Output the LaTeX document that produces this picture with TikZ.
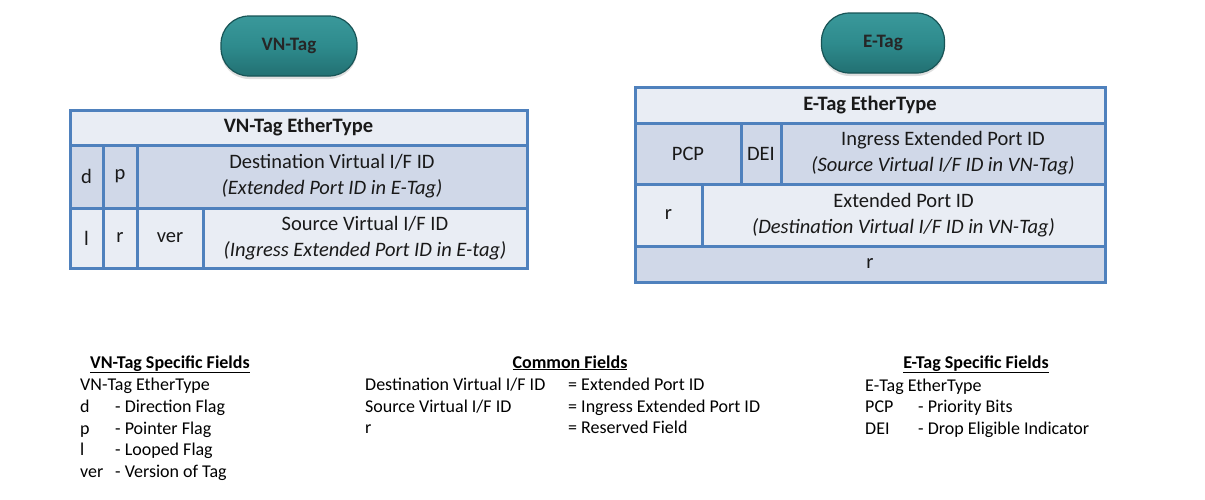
\documentclass[tikz,border=0pt]{standalone}
\usepackage{fontspec}
\setmainfont{Carlito}
\usepackage{xcolor}
\usepackage{tikz}
\usetikzlibrary{positioning, shadows}
\definecolor{tblline}{RGB}{79,129,189}
\definecolor{tbllight}{RGB}{233,237,244}
\definecolor{tbldark}{RGB}{208,216,232}
\definecolor{pilltop}{RGB}{58,152,154}
\definecolor{pillmid}{RGB}{46,139,141}
\definecolor{pillbot}{RGB}{34,112,114}
\definecolor{pilledge}{RGB}{24,84,86}

\begin{document}
\begin{tikzpicture}[
        x=1pt, y=-1pt,
        cell/.style={draw=tblline, line width=3pt, rectangle, anchor=north west, inner sep=0pt, outer sep=0pt, align=center, text=black!90, font=\fontsize{20.5}{26}\selectfont},
        light/.style={cell, fill=tbllight},
        dark/.style={cell, fill=tbldark},
        pill/.style={draw=pilledge, line width=1.2pt, rounded corners=28pt, top color=pilltop, bottom color=pillbot, middle color=pillmid, font=\fontsize{19}{22}\selectfont\bfseries, text=black!85, drop shadow={opacity=0.25, shadow xshift=0pt, shadow yshift=-3pt}},
        legend/.style={anchor=base west, inner sep=0pt, font=\fontsize{18}{22}\selectfont},
        legtitle/.style={anchor=base, inner sep=0pt, font=\fontsize{18}{22}\selectfont\bfseries}
    ]
    \useasboundingbox (0,0) rectangle (1205,499);

    % tag names
    \node[pill, minimum width=136pt, minimum height=60pt] (vntag) at (289,46) {VN-Tag};
    \node[pill, minimum width=123pt, minimum height=60pt] (etag) at (883,43) {E-Tag};

    % VN-Tag format
    \node[light, minimum width=457pt, minimum height=35pt] (vnether) at (70,110) {\textbf{VN-Tag EtherType}};
    \node[dark, minimum width=33pt, minimum height=63pt] (vnd) at (70,145) {d};
    \node[dark, minimum width=34pt, minimum height=63pt] (vnp) at (103,145) {p};
    \node[dark, minimum width=390pt, minimum height=63pt] (vndst) at (137,145) {Destination Virtual I/F ID\\\textit{(Extended Port ID in E-Tag)}};
    \node[light, minimum width=33pt, minimum height=60pt] (vnl) at (70,208) {l};
    \node[light, minimum width=34pt, minimum height=60pt] (vnr) at (103,208) {r};
    \node[light, minimum width=66pt, minimum height=60pt] (vnver) at (137,208) {ver};
    \node[light, minimum width=324pt, minimum height=60pt] (vnsrc) at (203,208) {Source Virtual I/F ID\\\textit{(Ingress Extended Port ID in E-tag)}};

    % E-Tag format
    \node[light, minimum width=470pt, minimum height=36pt] (eether) at (635,87) {\textbf{E-Tag EtherType}};
    \node[dark, minimum width=106pt, minimum height=61pt] (epcp) at (635,123) {PCP};
    \node[dark, minimum width=40pt, minimum height=61pt] (edei) at (741,123) {DEI};
    \node[dark, minimum width=324pt, minimum height=61pt] (eing) at (781,123) {Ingress Extended Port ID\\\textit{(Source Virtual I/F ID in VN-Tag)}};
    \node[light, minimum width=67pt, minimum height=62pt] (er) at (635,184) {r};
    \node[light, minimum width=403pt, minimum height=62pt] (eext) at (702,184) {Extended Port ID\\\textit{(Destination Virtual I/F ID in VN-Tag)}};
    \node[dark, minimum width=470pt, minimum height=36pt] (eres) at (635,246) {r};

    % legends
    \node[legtitle] (vnlegend) at (170,368) {\underline{VN-Tag Specific Fields}};
    \node[legend] (vnl1) at (80,390) {VN-Tag EtherType};
    \node[legend] (vnl2) at (80,412) {d};
    \node[legend] (vnl2b) at (115,412) {- Direction Flag};
    \node[legend] (vnl3) at (80,434) {p};
    \node[legend] (vnl3b) at (115,434) {- Pointer Flag};
    \node[legend] (vnl4) at (80,455) {l};
    \node[legend] (vnl4b) at (115,455) {- Looped Flag};
    \node[legend] (vnl5) at (80,477) {ver};
    \node[legend] (vnl5b) at (115,477) {- Version of Tag};

    \node[legtitle] (cmlegend) at (570,368) {\underline{Common Fields}};
    \node[legend] (cm1) at (365,390) {Destination Virtual I/F ID};
    \node[legend] (cm1b) at (568,390) {= Extended Port ID};
    \node[legend] (cm2) at (365,412) {Source Virtual I/F ID};
    \node[legend] (cm2b) at (568,412) {= Ingress Extended Port ID};
    \node[legend] (cm3) at (365,433) {r};
    \node[legend] (cm3b) at (568,433) {= Reserved Field};

    \node[legtitle] (elegend) at (976,368) {\underline{E-Tag Specific Fields}};
    \node[legend] (el1) at (865,391) {E-Tag EtherType};
    \node[legend] (el2) at (865,412) {PCP};
    \node[legend] (el2b) at (918,412) {- Priority Bits};
    \node[legend] (el3) at (865,434) {DEI};
    \node[legend] (el3b) at (918,434) {- Drop Eligible Indicator};
\end{tikzpicture}
\end{document}
